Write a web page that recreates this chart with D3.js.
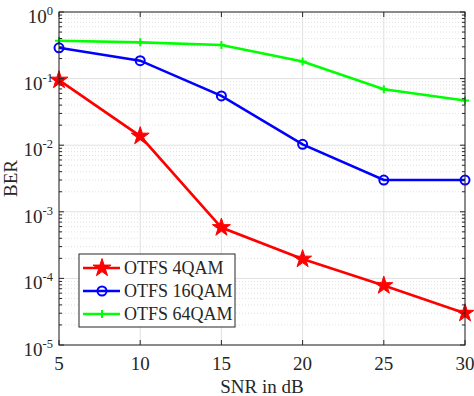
<!DOCTYPE html>
<html>
<head>
<meta charset="utf-8">
<script src="https://d3js.org/d3.v7.min.js"></script>
<style>
  body { margin: 0; background: #fff; }
  text { font-family: "Liberation Serif", "Times New Roman", serif; fill: #262626; }
</style>
</head>
<body>
<div id="chart"></div>
<script>
// data
var snr = [5, 10, 15, 20, 25, 30];
var ber4 = [0.095, 0.0137, 0.00058, 0.000195, 0.000078, 0.00003];
var ber16 = [0.29, 0.186, 0.055, 0.0103, 0.003, 0.003];
var ber64 = [0.37, 0.35, 0.32, 0.18, 0.069, 0.047];
var xTicks = [5, 10, 15, 20, 25, 30];
var yExps = [0, -1, -2, -3, -4, -5];
var names = ["OTFS 4QAM", "OTFS 16QAM", "OTFS 64QAM"];

var W = 474, H = 396;
var margin = { top: 12, right: 9, bottom: 51, left: 59 },
    width = W - margin.left - margin.right,
    height = H - margin.top - margin.bottom;

var svg = d3.select("#chart").append("svg")
    .attr("width", W).attr("height", H);
var g = svg.append("g")
    .attr("transform", "translate(" + margin.left + "," + margin.top + ")");

var x = d3.scaleLinear().domain([5, 30]).range([0, width]);
var y = d3.scaleLog().domain([1e-5, 1]).range([height, 0]);

// minor grid (dotted)
var minor = [];
for (var e = -5; e < 0; e++) {
    for (var m = 2; m <= 9; m++) minor.push(m * Math.pow(10, e));
}
g.selectAll(".minor").data(minor).enter().append("line")
    .attr("x1", 0).attr("x2", width)
    .attr("y1", function (d) { return y(d); }).attr("y2", function (d) { return y(d); })
    .style("stroke", "#d4d4d4").style("stroke-width", 0.7)
    .style("stroke-dasharray", "1,2");

// major grid
g.selectAll(".gy").data(yExps).enter().append("line")
    .attr("x1", 0).attr("x2", width)
    .attr("y1", function (d) { return y(Math.pow(10, d)); })
    .attr("y2", function (d) { return y(Math.pow(10, d)); })
    .style("stroke", "#e0e0e0").style("stroke-width", 1);
g.selectAll(".gx").data(xTicks).enter().append("line")
    .attr("y1", 0).attr("y2", height)
    .attr("x1", function (d) { return x(d); }).attr("x2", function (d) { return x(d); })
    .style("stroke", "#e0e0e0").style("stroke-width", 1);

// series
var series = [
    { name: names[0], vals: ber4, color: "#ff0000", mark: "star" },
    { name: names[1], vals: ber16, color: "#0000ff", mark: "circle" },
    { name: names[2], vals: ber64, color: "#00ff00", mark: "plus" }
];

var line = d3.line()
    .x(function (d) { return x(d[0]); })
    .y(function (d) { return y(d[1]); });

function drawMarker(sel, type, color) {
    if (type === "star") {
        sel.append("path")
            .attr("d", d3.symbol().type(d3.symbolStar).size(100))
            .style("fill", color).style("stroke", color).style("stroke-width", 1);
    } else if (type === "circle") {
        sel.append("circle").attr("r", 4.5)
            .style("fill", "none").style("stroke", color).style("stroke-width", 2);
    } else {
        sel.append("path").attr("d", "M-4,0H4M0,-4V4")
            .style("stroke", color).style("stroke-width", 2);
    }
}

series.slice().reverse().forEach(function (s) {
    var pts = snr.map(function (v, i) { return [v, s.vals[i]]; });
    g.append("path").datum(pts)
        .attr("d", line)
        .style("fill", "none").style("stroke", s.color).style("stroke-width", 2.6);
    g.selectAll(null).data(pts).enter().append("g")
        .attr("transform", function (d) { return "translate(" + x(d[0]) + "," + y(d[1]) + ")"; })
        .each(function () { drawMarker(d3.select(this), s.mark, s.color); });
});

// box
g.append("rect").attr("width", width).attr("height", height)
    .style("fill", "none").style("stroke", "#262626").style("stroke-width", 1);

// ticks (inside, all four sides)
var tk = 5, tkm = 3;
xTicks.forEach(function (t) {
    g.append("line").attr("x1", x(t)).attr("x2", x(t)).attr("y1", height).attr("y2", height - tk)
        .style("stroke", "#262626");
    g.append("line").attr("x1", x(t)).attr("x2", x(t)).attr("y1", 0).attr("y2", tk)
        .style("stroke", "#262626");
});
yExps.forEach(function (e) {
    var yy = y(Math.pow(10, e));
    g.append("line").attr("x1", 0).attr("x2", tk).attr("y1", yy).attr("y2", yy).style("stroke", "#262626");
    g.append("line").attr("x1", width).attr("x2", width - tk).attr("y1", yy).attr("y2", yy).style("stroke", "#262626");
});
minor.forEach(function (v) {
    var yy = y(v);
    g.append("line").attr("x1", 0).attr("x2", tkm).attr("y1", yy).attr("y2", yy).style("stroke", "#262626");
    g.append("line").attr("x1", width).attr("x2", width - tkm).attr("y1", yy).attr("y2", yy).style("stroke", "#262626");
});

// tick labels
g.selectAll(".xl").data(xTicks).enter().append("text")
    .attr("x", function (d) { return x(d); })
    .attr("y", height + 25)
    .attr("text-anchor", "middle")
    .style("font-size", "19px")
    .text(function (d) { return d; });

var yl = g.selectAll(".yl").data(yExps).enter().append("text")
    .attr("x", -6)
    .attr("y", function (d) { return y(Math.pow(10, d)) + 11; })
    .attr("text-anchor", "end")
    .style("font-size", "19px");
yl.append("tspan").text("10");
yl.append("tspan").attr("dy", -8).style("font-size", "12.5px").text(function (d) { return d; });

// axis titles
g.append("text")
    .attr("x", width / 2).attr("y", height + 48)
    .attr("text-anchor", "middle").style("font-size", "19px")
    .text("SNR in dB");
g.append("text")
    .attr("transform", "translate(" + (-42) + "," + (height / 2) + ") rotate(-90)")
    .attr("text-anchor", "middle").style("font-size", "19px")
    .text("BER");

// legend
var lg = g.append("g").attr("transform", "translate(" + (79 - margin.left) + "," + (254 - margin.top) + ")");
lg.append("rect").attr("width", 156).attr("height", 73)
    .style("fill", "#fff").style("stroke", "#262626").style("stroke-width", 1);
series.forEach(function (s, i) {
    var ly = 14 + i * 23;
    lg.append("line").attr("x1", 4).attr("x2", 41).attr("y1", ly).attr("y2", ly)
        .style("stroke", s.color).style("stroke-width", 2.6);
    var mk = lg.append("g").attr("transform", "translate(23," + ly + ")");
    drawMarker(mk, s.mark, s.color);
    lg.append("text").attr("x", 45).attr("y", ly + 6)
        .style("font-size", "18px").text(s.name);
});
</script>
</body>
</html>
